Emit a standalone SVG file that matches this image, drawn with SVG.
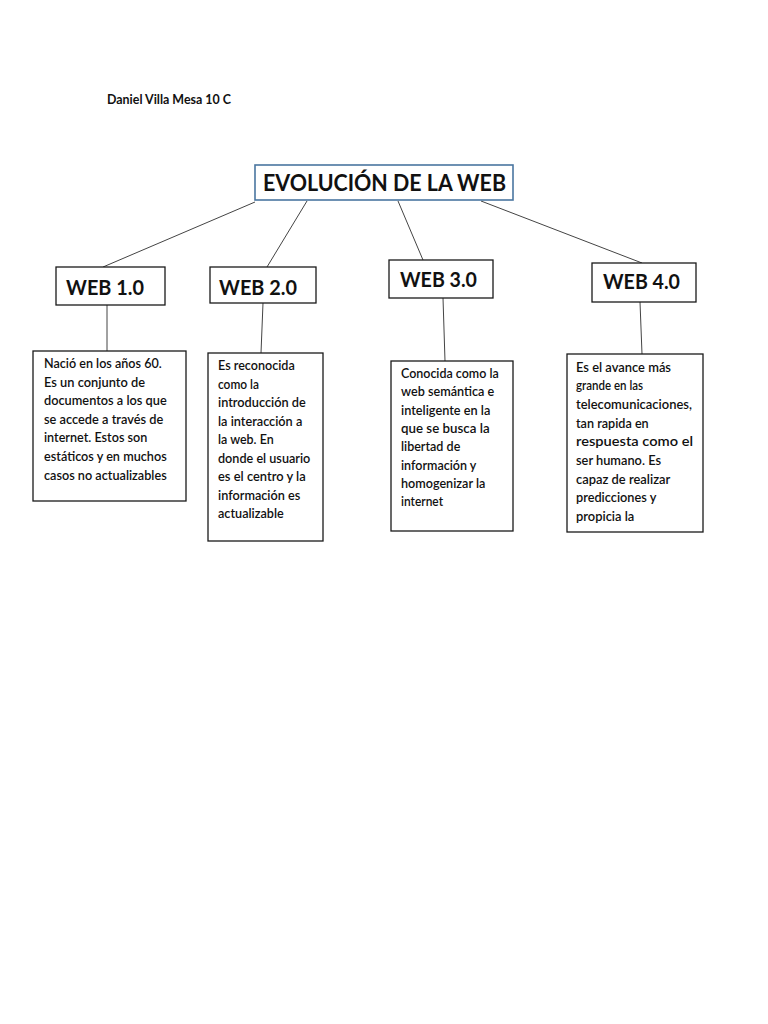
<svg xmlns="http://www.w3.org/2000/svg" width="768" height="1024" viewBox="0 0 768 1024">
<style>
.box{fill:#fff;stroke:#1a1a1a;stroke-width:1.3}
.title{fill:#fff;stroke:#4a76a0;stroke-width:1.6}
.con line{stroke:#444;stroke-width:1}
.h{font-family:Lato,"Liberation Sans",sans-serif;font-weight:bold;fill:#111}
.t{font-family:Lato,"Liberation Sans",sans-serif;font-size:13px;font-weight:600;fill:#111}
</style>
<rect width="768" height="1024" fill="#fff"/>
<text class="h" x="107" y="104" font-size="12.5" textLength="124" lengthAdjust="spacingAndGlyphs">Daniel Villa Mesa 10 C</text>
<g class="con">
<line x1="255" y1="202" x2="103" y2="267"/>
<line x1="307" y1="201" x2="267" y2="267"/>
<line x1="398" y1="201" x2="423" y2="260"/>
<line x1="481" y1="201" x2="642" y2="263"/>
<line x1="107" y1="305" x2="107" y2="351"/>
<line x1="263" y1="303" x2="261" y2="353"/>
<line x1="443" y1="298" x2="445" y2="361"/>
<line x1="640" y1="302" x2="642" y2="354"/>
</g>
<g id="title">
<rect class="title" x="255" y="165" width="258" height="35"/>
<text class="h" x="263" y="191" font-size="23" font-weight="600" textLength="243" lengthAdjust="spacingAndGlyphs">EVOLUCIÓN DE LA WEB</text>
</g>
<g id="web1">
<rect class="box" x="56" y="267" width="109" height="38"/>
<text class="h" x="66" y="295" font-size="20" textLength="78" lengthAdjust="spacingAndGlyphs">WEB 1.0</text>
</g>
<g id="web2">
<rect class="box" x="210" y="267" width="106" height="36"/>
<text class="h" x="219" y="295" font-size="20" textLength="78" lengthAdjust="spacingAndGlyphs">WEB 2.0</text>
</g>
<g id="web3">
<rect class="box" x="389" y="260" width="104" height="38"/>
<text class="h" x="400" y="287" font-size="20" textLength="77" lengthAdjust="spacingAndGlyphs">WEB 3.0</text>
</g>
<g id="web4">
<rect class="box" x="592" y="263" width="104" height="39"/>
<text class="h" x="603" y="289" font-size="20" textLength="77" lengthAdjust="spacingAndGlyphs">WEB 4.0</text>
</g>
<g id="desc1">
<rect class="box" x="33" y="351" width="153" height="150"/>
<text class="t" x="44" y="368" textLength="117.7" lengthAdjust="spacingAndGlyphs">Nació en los años 60.</text>
<text class="t" x="44" y="386.6" textLength="101" lengthAdjust="spacingAndGlyphs">Es un conjunto de</text>
<text class="t" x="44" y="405.2" textLength="122.7" lengthAdjust="spacingAndGlyphs">documentos a los que</text>
<text class="t" x="44" y="423.8" textLength="119.3" lengthAdjust="spacingAndGlyphs">se accede a través de</text>
<text class="t" x="44" y="442.4" textLength="103.3" lengthAdjust="spacingAndGlyphs">internet. Estos son</text>
<text class="t" x="44" y="461" textLength="122.7" lengthAdjust="spacingAndGlyphs">estáticos y en muchos</text>
<text class="t" x="44" y="479.6" textLength="122.7" lengthAdjust="spacingAndGlyphs">casos no actualizables</text>
</g>
<g id="desc2">
<rect class="box" x="208" y="353" width="115" height="188"/>
<text class="t" x="218" y="370" textLength="76.7" lengthAdjust="spacingAndGlyphs">Es reconocida</text>
<text class="t" x="218" y="388.5" textLength="41" lengthAdjust="spacingAndGlyphs">como la</text>
<text class="t" x="218" y="407" textLength="87.7" lengthAdjust="spacingAndGlyphs">introducción de</text>
<text class="t" x="218" y="425.5" textLength="84.3" lengthAdjust="spacingAndGlyphs">la interacción a</text>
<text class="t" x="218" y="444" textLength="55.7" lengthAdjust="spacingAndGlyphs">la web. En</text>
<text class="t" x="218" y="462.5" textLength="92.3" lengthAdjust="spacingAndGlyphs">donde el usuario</text>
<text class="t" x="218" y="481" textLength="87.7" lengthAdjust="spacingAndGlyphs">es el centro y la</text>
<text class="t" x="218" y="499.5" textLength="82.3" lengthAdjust="spacingAndGlyphs">información es</text>
<text class="t" x="218" y="518" textLength="65.7" lengthAdjust="spacingAndGlyphs">actualizable</text>
</g>
<g id="desc3">
<rect class="box" x="391" y="361" width="122" height="170"/>
<text class="t" x="401" y="378" textLength="97.7" lengthAdjust="spacingAndGlyphs">Conocida como la</text>
<text class="t" x="401" y="396.3" textLength="93.3" lengthAdjust="spacingAndGlyphs">web semántica e</text>
<text class="t" x="401" y="414.6" textLength="89.3" lengthAdjust="spacingAndGlyphs">inteligente en la</text>
<text class="t" x="401" y="432.9" textLength="88.7" lengthAdjust="spacingAndGlyphs">que se busca la</text>
<text class="t" x="401" y="451.2" textLength="59.3" lengthAdjust="spacingAndGlyphs">libertad de</text>
<text class="t" x="401" y="469.5" textLength="75.3" lengthAdjust="spacingAndGlyphs">información y</text>
<text class="t" x="401" y="487.8" textLength="84.3" lengthAdjust="spacingAndGlyphs">homogenizar la</text>
<text class="t" x="401" y="506.1" textLength="42" lengthAdjust="spacingAndGlyphs">internet</text>
</g>
<g id="desc4">
<rect class="box" x="567" y="354" width="136" height="178"/>
<text class="t" x="576" y="371.5" textLength="95" lengthAdjust="spacingAndGlyphs">Es el avance más</text>
<text class="t" x="576" y="390.2" textLength="67" lengthAdjust="spacingAndGlyphs">grande en las</text>
<text class="t" x="576" y="408.9" textLength="116" lengthAdjust="spacingAndGlyphs">telecomunicaciones,</text>
<text class="t" x="576" y="427.6" textLength="72.7" lengthAdjust="spacingAndGlyphs">tan rapida en</text>
<text class="t" x="576" y="446.3" textLength="117" lengthAdjust="spacingAndGlyphs">respuesta como el</text>
<text class="t" x="576" y="465" textLength="85" lengthAdjust="spacingAndGlyphs">ser humano. Es</text>
<text class="t" x="576" y="483.7" textLength="94.3" lengthAdjust="spacingAndGlyphs">capaz de realizar</text>
<text class="t" x="576" y="502.4" textLength="80.3" lengthAdjust="spacingAndGlyphs">predicciones y</text>
<text class="t" x="576" y="521.1" textLength="58.3" lengthAdjust="spacingAndGlyphs">propicia la</text>
</g>
</svg>
